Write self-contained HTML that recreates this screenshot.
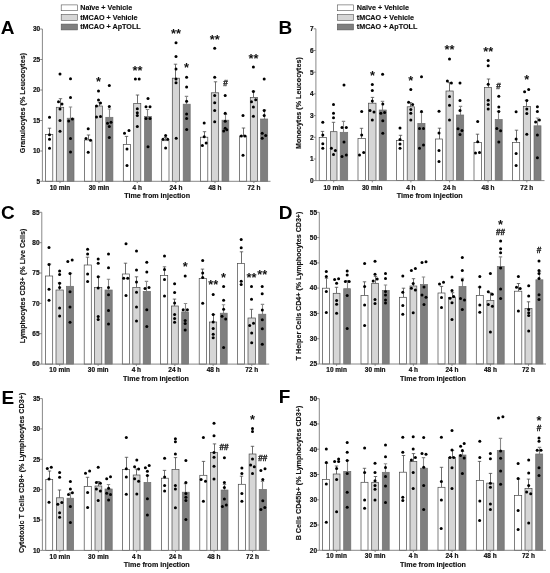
<!DOCTYPE html>
<html lang="en"><head><meta charset="utf-8"><title>Figure</title><style>
html,body{margin:0;padding:0;background:#fff;}
body{width:550px;height:573px;overflow:hidden;font-family:"Liberation Sans",sans-serif;}
svg{display:block;}
text{font-family:"Liberation Sans",sans-serif;font-weight:bold;fill:#111;}
.letter{font-size:19px;fill:#000;}
.tk{font-size:6.5px;stroke:#111;stroke-width:0.2;}
.tt{font-size:7.17px;stroke:#111;stroke-width:0.15;}
.lg{font-size:7.2px;stroke:#111;stroke-width:0.15;}
.st{font-size:12.8px;}
.ha{font-size:8.2px;stroke:#111;stroke-width:0.3;}
.bar{stroke:#484848;stroke-width:0.7;}
.lbox{stroke:#555;stroke-width:0.6;}
.b2{stroke:#6e6e6e;}
.err{stroke:#4a4a4a;stroke-width:0.8;fill:none;}
.e2{stroke:#8a8a8a;stroke-width:1.1;}
.axis{stroke:#7a7a7a;stroke-width:0.9;fill:none;}
circle{fill:#000;}
</style></head><body>
<svg width="550" height="573" viewBox="0 0 550 573">
<rect width="550" height="573" fill="#fff"/>
<g class="legend">
<rect x="61.2" y="4.9" width="16.2" height="5.8" fill="#ffffff" class="lbox"/>
<text x="80.2" y="10.2" class="lg">Naïve + Vehicle</text>
<rect x="61.2" y="14.5" width="16.2" height="5.8" fill="#d6d6d6" class="lbox"/>
<text x="80.2" y="19.8" class="lg">tMCAO + Vehicle</text>
<rect x="61.2" y="24.1" width="16.2" height="5.8" fill="#7f7f7f" class="lbox"/>
<text x="80.2" y="29.4" class="lg">tMCAO + ApTOLL</text>
</g>
<g class="legend">
<rect x="337.3" y="4.9" width="16.2" height="5.8" fill="#ffffff" class="lbox"/>
<text x="356.8" y="10.2" class="lg">Naïve + Vehicle</text>
<rect x="337.3" y="14.5" width="16.2" height="5.8" fill="#d6d6d6" class="lbox"/>
<text x="356.8" y="19.8" class="lg">tMCAO + Vehicle</text>
<rect x="337.3" y="24.1" width="16.2" height="5.8" fill="#7f7f7f" class="lbox"/>
<text x="356.8" y="29.4" class="lg">tMCAO + ApTOLL</text>
</g>
<g class="panel">
<text x="0.7" y="34.05" class="letter">A</text>
<path d="M49.5 134.5V128.2M47.8 128.2H51.2" class="err e0"/>
<rect x="45.5" y="134.5" width="7.3" height="46.8" fill="#ffffff" class="bar b0"/>
<path d="M60.5 107.3V98.7M58.8 98.7H62.2" class="err e1"/>
<rect x="56.3" y="107.3" width="7.4" height="74" fill="#d6d6d6" class="bar b1"/>
<path d="M70.5 118.2V107M68.8 107H72.2" class="err e2"/>
<rect x="67.2" y="118.2" width="6.8" height="63.1" fill="#7f7f7f" class="bar b2"/>
<path d="M88.5 140V135M86.8 135H90.2" class="err e0"/>
<rect x="84.4" y="140" width="7.6" height="41.3" fill="#ffffff" class="bar b0"/>
<path d="M99.5 106V102.7M97.8 102.7H101.2" class="err e1"/>
<rect x="95.5" y="106" width="7" height="75.3" fill="#d6d6d6" class="bar b1"/>
<path d="M109.5 117.3V109M107.8 109H111.2" class="err e2"/>
<rect x="105.8" y="117.3" width="7.1" height="64" fill="#7f7f7f" class="bar b2"/>
<path d="M126.5 144.5V136.4M124.8 136.4H128.2" class="err e0"/>
<rect x="123.3" y="144.5" width="7.2" height="36.8" fill="#ffffff" class="bar b0"/>
<path d="M137.5 103.6V95M135.8 95H139.2" class="err e1"/>
<rect x="133.7" y="103.6" width="7.1" height="77.7" fill="#d6d6d6" class="bar b1"/>
<path d="M147.5 116.4V109.5M145.8 109.5H149.2" class="err e2"/>
<rect x="144.5" y="116.4" width="6.9" height="64.9" fill="#7f7f7f" class="bar b2"/>
<path d="M165.5 140.7V137.5M163.8 137.5H167.2" class="err e0"/>
<rect x="161.7" y="140.7" width="7.3" height="40.6" fill="#ffffff" class="bar b0"/>
<path d="M175.5 78.2V64.2M173.8 64.2H177.2" class="err e1"/>
<rect x="172.3" y="78.2" width="7.2" height="103.1" fill="#d6d6d6" class="bar b1"/>
<path d="M186.5 104.2V96.4M184.8 96.4H188.2" class="err e2"/>
<rect x="183.2" y="104.2" width="7" height="77.1" fill="#7f7f7f" class="bar b2"/>
<path d="M204.5 137.2V131.7M202.8 131.7H206.2" class="err e0"/>
<rect x="200.5" y="137.2" width="7.3" height="44.1" fill="#ffffff" class="bar b0"/>
<path d="M215.5 92.8V81.8M213.8 81.8H217.2" class="err e1"/>
<rect x="211.3" y="92.8" width="7.4" height="88.5" fill="#d6d6d6" class="bar b1"/>
<path d="M225.5 120.2V114.4M223.8 114.4H227.2" class="err e2"/>
<rect x="222" y="120.2" width="6.8" height="61.1" fill="#7f7f7f" class="bar b2"/>
<path d="M243.5 136V128M241.8 128H245.2" class="err e0"/>
<rect x="239.5" y="136" width="7.2" height="45.3" fill="#ffffff" class="bar b0"/>
<path d="M253.5 97.4V91.2M251.8 91.2H255.2" class="err e1"/>
<rect x="250.3" y="97.4" width="7.2" height="83.9" fill="#d6d6d6" class="bar b1"/>
<path d="M264.5 119V110M262.8 110H266.2" class="err e2"/>
<rect x="260.6" y="119" width="7.1" height="62.3" fill="#7f7f7f" class="bar b2"/>
<path d="M42.4 29V181.3H270.5M40.2 29H42.4M40.2 59.5H42.4M40.2 90H42.4M40.2 120.5H42.4M40.2 151H42.4M40.2 181.3H42.4M60 181.3V183.1M99 181.3V183.1M137.25 181.3V183.1M175.9 181.3V183.1M215 181.3V183.1M253.9 181.3V183.1" class="axis"/>
<circle cx="49.5" cy="117.3" r="1.5"/>
<circle cx="49.5" cy="134.7" r="1.5"/>
<circle cx="49.5" cy="139.3" r="1.5"/>
<circle cx="49.5" cy="148.3" r="1.5"/>
<circle cx="60" cy="74" r="1.5"/>
<circle cx="58.5" cy="101.8" r="1.5"/>
<circle cx="62" cy="104" r="1.5"/>
<circle cx="60" cy="109" r="1.5"/>
<circle cx="60" cy="120.4" r="1.5"/>
<circle cx="60" cy="131.3" r="1.5"/>
<circle cx="70.5" cy="78.7" r="1.5"/>
<circle cx="70.5" cy="97.5" r="1.5"/>
<circle cx="68.7" cy="121" r="1.5"/>
<circle cx="72.4" cy="119" r="1.5"/>
<circle cx="70.5" cy="138.5" r="1.5"/>
<circle cx="70.5" cy="152.1" r="1.5"/>
<circle cx="88.2" cy="128.7" r="1.5"/>
<circle cx="86" cy="138.4" r="1.5"/>
<circle cx="90.5" cy="140.2" r="1.5"/>
<circle cx="88.2" cy="152.2" r="1.5"/>
<circle cx="98.5" cy="91" r="1.5"/>
<circle cx="98.5" cy="100" r="1.5"/>
<circle cx="100.5" cy="103" r="1.5"/>
<circle cx="96.5" cy="106" r="1.5"/>
<circle cx="96.5" cy="117" r="1.5"/>
<circle cx="100.5" cy="116.5" r="1.5"/>
<circle cx="109.3" cy="85.5" r="1.5"/>
<circle cx="109.3" cy="106.4" r="1.5"/>
<circle cx="107.5" cy="123.3" r="1.5"/>
<circle cx="111" cy="122.2" r="1.5"/>
<circle cx="109.3" cy="126.4" r="1.5"/>
<circle cx="109.3" cy="137.6" r="1.5"/>
<circle cx="124.5" cy="133.3" r="1.5"/>
<circle cx="129" cy="130.4" r="1.5"/>
<circle cx="127" cy="149" r="1.5"/>
<circle cx="127" cy="165.6" r="1.5"/>
<circle cx="135.4" cy="79" r="1.5"/>
<circle cx="139.2" cy="79" r="1.5"/>
<circle cx="137.3" cy="108.7" r="1.5"/>
<circle cx="137.3" cy="112.7" r="1.5"/>
<circle cx="137.3" cy="115.5" r="1.5"/>
<circle cx="137.3" cy="126.4" r="1.5"/>
<circle cx="148" cy="98.4" r="1.5"/>
<circle cx="146" cy="106.7" r="1.5"/>
<circle cx="150" cy="106.7" r="1.5"/>
<circle cx="146" cy="118.5" r="1.5"/>
<circle cx="150" cy="118.5" r="1.5"/>
<circle cx="148" cy="146.7" r="1.5"/>
<circle cx="165.6" cy="135.6" r="1.5"/>
<circle cx="163" cy="139.3" r="1.5"/>
<circle cx="167.7" cy="139.3" r="1.5"/>
<circle cx="165.6" cy="148" r="1.5"/>
<circle cx="176" cy="42.7" r="1.5"/>
<circle cx="176" cy="56.4" r="1.5"/>
<circle cx="176" cy="69" r="1.5"/>
<circle cx="176" cy="79" r="1.5"/>
<circle cx="176" cy="82.7" r="1.5"/>
<circle cx="176.2" cy="138.3" r="1.5"/>
<circle cx="186.6" cy="77.3" r="1.5"/>
<circle cx="186.6" cy="87" r="1.5"/>
<circle cx="186.6" cy="101.3" r="1.5"/>
<circle cx="186.6" cy="114" r="1.5"/>
<circle cx="186.6" cy="118.5" r="1.5"/>
<circle cx="186.7" cy="129.6" r="1.5"/>
<circle cx="204.2" cy="122.9" r="1.5"/>
<circle cx="204.2" cy="136.8" r="1.5"/>
<circle cx="206.2" cy="143" r="1.5"/>
<circle cx="202.4" cy="145.6" r="1.5"/>
<circle cx="214.7" cy="48.3" r="1.5"/>
<circle cx="214.7" cy="77.2" r="1.5"/>
<circle cx="214.7" cy="95.4" r="1.5"/>
<circle cx="214.7" cy="102.8" r="1.5"/>
<circle cx="214.7" cy="110.5" r="1.5"/>
<circle cx="214.7" cy="121.8" r="1.5"/>
<circle cx="225.2" cy="95.4" r="1.5"/>
<circle cx="225.2" cy="113.3" r="1.5"/>
<circle cx="225.2" cy="121.3" r="1.5"/>
<circle cx="223.7" cy="131" r="1.5"/>
<circle cx="226.8" cy="129.8" r="1.5"/>
<circle cx="225.2" cy="128.3" r="1.5"/>
<circle cx="243" cy="115.6" r="1.5"/>
<circle cx="241.3" cy="136" r="1.5"/>
<circle cx="244.9" cy="136" r="1.5"/>
<circle cx="243" cy="155.3" r="1.5"/>
<circle cx="253.4" cy="67" r="1.5"/>
<circle cx="253.4" cy="91.5" r="1.5"/>
<circle cx="255.7" cy="99.7" r="1.5"/>
<circle cx="251.5" cy="101.7" r="1.5"/>
<circle cx="253.4" cy="107" r="1.5"/>
<circle cx="253.4" cy="116.2" r="1.5"/>
<circle cx="264.2" cy="79" r="1.5"/>
<circle cx="264.2" cy="110.5" r="1.5"/>
<circle cx="264.2" cy="115.4" r="1.5"/>
<circle cx="262.2" cy="133.2" r="1.5"/>
<circle cx="265.7" cy="135.5" r="1.5"/>
<circle cx="262.2" cy="138.3" r="1.5"/>
<text x="40.2" y="31.3" class="tk" text-anchor="end">30</text>
<text x="40.2" y="61.8" class="tk" text-anchor="end">25</text>
<text x="40.2" y="92.3" class="tk" text-anchor="end">20</text>
<text x="40.2" y="122.8" class="tk" text-anchor="end">15</text>
<text x="40.2" y="153.3" class="tk" text-anchor="end">10</text>
<text x="40.2" y="183.6" class="tk" text-anchor="end">5</text>
<text x="60" y="190" class="tk" text-anchor="middle">10 min</text>
<text x="99" y="190" class="tk" text-anchor="middle">30 min</text>
<text x="137.25" y="190" class="tk" text-anchor="middle">4 h</text>
<text x="175.9" y="190" class="tk" text-anchor="middle">24 h</text>
<text x="215" y="190" class="tk" text-anchor="middle">48 h</text>
<text x="253.9" y="190" class="tk" text-anchor="middle">72 h</text>
<text x="157.1" y="198.3" class="tt" text-anchor="middle">Time from injection</text>
<text transform="translate(24.5 103.05) rotate(-90)" class="tt" style="font-size:7.16px" text-anchor="middle">Granulocytes (% Leucocytes)</text>
<text x="98.5" y="86.4" class="st" text-anchor="middle">*</text>
<text x="137.4" y="74.9" class="st" text-anchor="middle">**</text>
<text x="176" y="38.4" class="st" text-anchor="middle">**</text>
<text x="186.6" y="72.2" class="st" text-anchor="middle">*</text>
<text x="214.7" y="43.9" class="st" text-anchor="middle">**</text>
<text x="225.5" y="86.23" class="ha" text-anchor="middle">#</text>
<text x="253.4" y="62.7" class="st" text-anchor="middle">**</text>
</g>
<g class="panel">
<text x="278.5" y="33.7" class="letter">B</text>
<path d="M322.5 137.4V131.4M320.8 131.4H324.2" class="err e0"/>
<rect x="319.2" y="137.4" width="7.3" height="43.2" fill="#ffffff" class="bar b0"/>
<path d="M333.5 131.7V122.3M331.8 122.3H335.2" class="err e1"/>
<rect x="330.4" y="131.7" width="6.6" height="48.9" fill="#d6d6d6" class="bar b1"/>
<path d="M343.5 132.3V121.4M341.8 121.4H345.2" class="err e2"/>
<rect x="340.2" y="132.3" width="7.5" height="48.3" fill="#7f7f7f" class="bar b2"/>
<path d="M361.5 138.6V128.3M359.8 128.3H363.2" class="err e0"/>
<rect x="358" y="138.6" width="7.4" height="42" fill="#ffffff" class="bar b0"/>
<path d="M372.5 103.2V97.4M370.8 97.4H374.2" class="err e1"/>
<rect x="368.6" y="103.2" width="7.4" height="77.4" fill="#d6d6d6" class="bar b1"/>
<path d="M382.5 110V101.4M380.8 101.4H384.2" class="err e2"/>
<rect x="379.2" y="110" width="7.1" height="70.6" fill="#7f7f7f" class="bar b2"/>
<path d="M400.5 140.4V135.3M398.8 135.3H402.2" class="err e0"/>
<rect x="396.5" y="140.4" width="7.2" height="40.2" fill="#ffffff" class="bar b0"/>
<path d="M410.5 106.8V102.7M408.8 102.7H412.2" class="err e1"/>
<rect x="407.2" y="106.8" width="7.4" height="73.8" fill="#d6d6d6" class="bar b1"/>
<path d="M421.5 123.4V112.2M419.8 112.2H423.2" class="err e2"/>
<rect x="417.8" y="123.4" width="7.2" height="57.2" fill="#7f7f7f" class="bar b2"/>
<path d="M439.5 139V128.2M437.8 128.2H441.2" class="err e0"/>
<rect x="435.4" y="139" width="7.2" height="41.6" fill="#ffffff" class="bar b0"/>
<path d="M449.5 91V82.7M447.8 82.7H451.2" class="err e1"/>
<rect x="446" y="91" width="7.2" height="89.6" fill="#d6d6d6" class="bar b1"/>
<path d="M460.5 115V106.4M458.8 106.4H462.2" class="err e2"/>
<rect x="456.4" y="115" width="7.3" height="65.6" fill="#7f7f7f" class="bar b2"/>
<path d="M477.5 142.4V134.2M475.8 134.2H479.2" class="err e0"/>
<rect x="474" y="142.4" width="7.4" height="38.2" fill="#ffffff" class="bar b0"/>
<path d="M488.5 87.4V79M486.8 79H490.2" class="err e1"/>
<rect x="484.5" y="87.4" width="7.1" height="93.2" fill="#d6d6d6" class="bar b1"/>
<path d="M498.5 119.5V111.4M496.8 111.4H500.2" class="err e2"/>
<rect x="495.2" y="119.5" width="7" height="61.1" fill="#7f7f7f" class="bar b2"/>
<path d="M516.5 142.5V130.2M514.8 130.2H518.2" class="err e0"/>
<rect x="512.4" y="142.5" width="7.3" height="38.1" fill="#ffffff" class="bar b0"/>
<path d="M526.5 106.4V100.3M524.8 100.3H528.2" class="err e1"/>
<rect x="523.3" y="106.4" width="7.1" height="74.2" fill="#d6d6d6" class="bar b1"/>
<path d="M537.5 125.8V118M535.8 118H539.2" class="err e2"/>
<rect x="534" y="125.8" width="7" height="54.8" fill="#7f7f7f" class="bar b2"/>
<path d="M315.9 28.8V180.6H544.5M313.7 28.8H315.9M313.7 50.5H315.9M313.7 72.2H315.9M313.7 93.9H315.9M313.7 115.6H315.9M313.7 137.3H315.9M313.7 159H315.9M313.7 180.6H315.9M333.7 180.6V182.4M372.3 180.6V182.4M410.9 180.6V182.4M449.6 180.6V182.4M488.05 180.6V182.4M526.85 180.6V182.4" class="axis"/>
<circle cx="322.8" cy="122.3" r="1.5"/>
<circle cx="322.8" cy="135" r="1.5"/>
<circle cx="322.8" cy="143.7" r="1.5"/>
<circle cx="322.8" cy="148.3" r="1.5"/>
<circle cx="333.5" cy="104.6" r="1.5"/>
<circle cx="333.5" cy="113.2" r="1.5"/>
<circle cx="333.5" cy="117.7" r="1.5"/>
<circle cx="331.4" cy="148.3" r="1.5"/>
<circle cx="335.4" cy="150.5" r="1.5"/>
<circle cx="333.5" cy="154.6" r="1.5"/>
<circle cx="344" cy="85" r="1.5"/>
<circle cx="342" cy="127.4" r="1.5"/>
<circle cx="346.3" cy="127.4" r="1.5"/>
<circle cx="344" cy="142" r="1.5"/>
<circle cx="342" cy="156.5" r="1.5"/>
<circle cx="346.3" cy="155" r="1.5"/>
<circle cx="361.7" cy="111.4" r="1.5"/>
<circle cx="361.7" cy="135" r="1.5"/>
<circle cx="359.5" cy="155" r="1.5"/>
<circle cx="363.7" cy="152.6" r="1.5"/>
<circle cx="372.3" cy="84.5" r="1.5"/>
<circle cx="372.3" cy="90.5" r="1.5"/>
<circle cx="372.3" cy="101" r="1.5"/>
<circle cx="370" cy="110.5" r="1.5"/>
<circle cx="374" cy="112" r="1.5"/>
<circle cx="372.3" cy="120" r="1.5"/>
<circle cx="382.6" cy="74.3" r="1.5"/>
<circle cx="382.8" cy="104" r="1.5"/>
<circle cx="380.8" cy="113.2" r="1.5"/>
<circle cx="384.6" cy="112.6" r="1.5"/>
<circle cx="382.8" cy="120.8" r="1.5"/>
<circle cx="382.8" cy="133.2" r="1.5"/>
<circle cx="400" cy="128.1" r="1.5"/>
<circle cx="400" cy="139.4" r="1.5"/>
<circle cx="400" cy="144" r="1.5"/>
<circle cx="400" cy="148.2" r="1.5"/>
<circle cx="410.8" cy="89.5" r="1.5"/>
<circle cx="408.6" cy="102.2" r="1.5"/>
<circle cx="412.6" cy="104.5" r="1.5"/>
<circle cx="410.8" cy="109.5" r="1.5"/>
<circle cx="410.8" cy="113.3" r="1.5"/>
<circle cx="410.8" cy="120" r="1.5"/>
<circle cx="421.5" cy="76.7" r="1.5"/>
<circle cx="421.5" cy="111.4" r="1.5"/>
<circle cx="419.5" cy="128.5" r="1.5"/>
<circle cx="423.5" cy="128.5" r="1.5"/>
<circle cx="423.5" cy="145" r="1.5"/>
<circle cx="419.5" cy="148.2" r="1.5"/>
<circle cx="439" cy="111.3" r="1.5"/>
<circle cx="439" cy="133" r="1.5"/>
<circle cx="439" cy="150.4" r="1.5"/>
<circle cx="439" cy="161.5" r="1.5"/>
<circle cx="449.5" cy="59" r="1.5"/>
<circle cx="447.4" cy="81" r="1.5"/>
<circle cx="451.4" cy="83" r="1.5"/>
<circle cx="449.5" cy="96.4" r="1.5"/>
<circle cx="449.5" cy="105.2" r="1.5"/>
<circle cx="449.5" cy="120" r="1.5"/>
<circle cx="460" cy="83" r="1.5"/>
<circle cx="460" cy="100.5" r="1.5"/>
<circle cx="460" cy="110.5" r="1.5"/>
<circle cx="458" cy="128.7" r="1.5"/>
<circle cx="462" cy="130.4" r="1.5"/>
<circle cx="460" cy="134.5" r="1.5"/>
<circle cx="477.7" cy="121.5" r="1.5"/>
<circle cx="477.7" cy="141.8" r="1.5"/>
<circle cx="475.5" cy="153" r="1.5"/>
<circle cx="479.5" cy="152.4" r="1.5"/>
<circle cx="488.2" cy="60.4" r="1.5"/>
<circle cx="488.2" cy="65.8" r="1.5"/>
<circle cx="488.2" cy="84.3" r="1.5"/>
<circle cx="488.2" cy="100.3" r="1.5"/>
<circle cx="488.2" cy="104.6" r="1.5"/>
<circle cx="488.2" cy="109" r="1.5"/>
<circle cx="498.8" cy="96.3" r="1.5"/>
<circle cx="498.8" cy="107" r="1.5"/>
<circle cx="498.8" cy="111.4" r="1.5"/>
<circle cx="496.8" cy="128.5" r="1.5"/>
<circle cx="500.6" cy="130.7" r="1.5"/>
<circle cx="498.8" cy="142" r="1.5"/>
<circle cx="516.1" cy="111.7" r="1.5"/>
<circle cx="516.1" cy="138.9" r="1.5"/>
<circle cx="516.1" cy="153.4" r="1.5"/>
<circle cx="516.1" cy="165.4" r="1.5"/>
<circle cx="524.6" cy="91.7" r="1.5"/>
<circle cx="528.7" cy="89.6" r="1.5"/>
<circle cx="526.8" cy="100.4" r="1.5"/>
<circle cx="526.8" cy="109" r="1.5"/>
<circle cx="526.8" cy="113.5" r="1.5"/>
<circle cx="526.8" cy="134.3" r="1.5"/>
<circle cx="537.4" cy="106.8" r="1.5"/>
<circle cx="537.4" cy="111.4" r="1.5"/>
<circle cx="539.4" cy="120" r="1.5"/>
<circle cx="535.6" cy="122" r="1.5"/>
<circle cx="537.4" cy="135" r="1.5"/>
<circle cx="537.4" cy="157.7" r="1.5"/>
<text x="313.7" y="31.1" class="tk" text-anchor="end">7</text>
<text x="313.7" y="52.8" class="tk" text-anchor="end">6</text>
<text x="313.7" y="74.5" class="tk" text-anchor="end">5</text>
<text x="313.7" y="96.2" class="tk" text-anchor="end">4</text>
<text x="313.7" y="117.9" class="tk" text-anchor="end">3</text>
<text x="313.7" y="139.6" class="tk" text-anchor="end">2</text>
<text x="313.7" y="161.3" class="tk" text-anchor="end">1</text>
<text x="313.7" y="182.9" class="tk" text-anchor="end">0</text>
<text x="333.7" y="189.7" class="tk" text-anchor="middle">10 min</text>
<text x="372.3" y="189.7" class="tk" text-anchor="middle">30 min</text>
<text x="410.9" y="189.7" class="tk" text-anchor="middle">4 h</text>
<text x="449.6" y="189.7" class="tk" text-anchor="middle">24 h</text>
<text x="488.05" y="189.7" class="tk" text-anchor="middle">48 h</text>
<text x="526.85" y="189.7" class="tk" text-anchor="middle">72 h</text>
<text x="429.8" y="198.3" class="tt" text-anchor="middle">Time from injection</text>
<text transform="translate(301.1 103.1) rotate(-90)" class="tt" style="font-size:7.16px" text-anchor="middle">Monocytes (% Leucocytes)</text>
<text x="372.4" y="79.7" class="st" text-anchor="middle">*</text>
<text x="410.8" y="84.9" class="st" text-anchor="middle">*</text>
<text x="449.5" y="54.4" class="st" text-anchor="middle">**</text>
<text x="488.2" y="56.4" class="st" text-anchor="middle">**</text>
<text x="498.5" y="89.43" class="ha" text-anchor="middle">#</text>
<text x="526.8" y="84.4" class="st" text-anchor="middle">*</text>
</g>
<g class="panel">
<text x="1.1" y="219" class="letter">C</text>
<path d="M49.5 276V264M47.8 264H51.2" class="err e0"/>
<rect x="45.5" y="276" width="7.2" height="88.1" fill="#ffffff" class="bar b0"/>
<path d="M59.5 290V282.8M57.8 282.8H61.2" class="err e1"/>
<rect x="56" y="290" width="7.3" height="74.1" fill="#d6d6d6" class="bar b1"/>
<path d="M70.5 286.3V273.2M68.8 273.2H72.2" class="err e2"/>
<rect x="66.4" y="286.3" width="7.2" height="77.8" fill="#7f7f7f" class="bar b2"/>
<path d="M87.5 265V257.2M85.8 257.2H89.2" class="err e0"/>
<rect x="84.2" y="265" width="7.1" height="99.1" fill="#ffffff" class="bar b0"/>
<path d="M98.5 287.4V276.8M96.8 276.8H100.2" class="err e1"/>
<rect x="94.5" y="287.4" width="7.3" height="76.7" fill="#d6d6d6" class="bar b1"/>
<path d="M108.5 290V279.2M106.8 279.2H110.2" class="err e2"/>
<rect x="105" y="290" width="7.2" height="74.1" fill="#7f7f7f" class="bar b2"/>
<path d="M125.5 274V263.2M123.8 263.2H127.2" class="err e0"/>
<rect x="122.3" y="274" width="7.2" height="90.1" fill="#ffffff" class="bar b0"/>
<path d="M136.5 287.4V276.8M134.8 276.8H138.2" class="err e1"/>
<rect x="132.8" y="287.4" width="7.2" height="76.7" fill="#d6d6d6" class="bar b1"/>
<path d="M146.5 291.4V281.4M144.8 281.4H148.2" class="err e2"/>
<rect x="143.2" y="291.4" width="7.3" height="72.7" fill="#7f7f7f" class="bar b2"/>
<path d="M164.5 275.5V266.8M162.8 266.8H166.2" class="err e0"/>
<rect x="160.5" y="275.5" width="7.2" height="88.6" fill="#ffffff" class="bar b0"/>
<path d="M174.5 306V299.1M172.8 299.1H176.2" class="err e1"/>
<rect x="171.4" y="306" width="6.9" height="58.1" fill="#d6d6d6" class="bar b1"/>
<path d="M185.5 311.9V303.5M183.8 303.5H187.2" class="err e2"/>
<rect x="181.7" y="311.9" width="6.9" height="52.2" fill="#7f7f7f" class="bar b2"/>
<path d="M202.5 278.5V269.1M200.8 269.1H204.2" class="err e0"/>
<rect x="199.2" y="278.5" width="7.2" height="85.6" fill="#ffffff" class="bar b0"/>
<path d="M213.5 322V314.5M211.8 314.5H215.2" class="err e1"/>
<rect x="209.6" y="322" width="7.1" height="42.1" fill="#d6d6d6" class="bar b1"/>
<path d="M223.5 313.2V304.7M221.8 304.7H225.2" class="err e2"/>
<rect x="220.3" y="313.2" width="6.9" height="50.9" fill="#7f7f7f" class="bar b2"/>
<path d="M241.5 263.6V251.8M239.8 251.8H243.2" class="err e0"/>
<rect x="237.5" y="263.6" width="7" height="100.5" fill="#ffffff" class="bar b0"/>
<path d="M251.5 318V309.3M249.8 309.3H253.2" class="err e1"/>
<rect x="248" y="318" width="7.5" height="46.1" fill="#d6d6d6" class="bar b1"/>
<path d="M262.5 314.2V304.4M260.8 304.4H264.2" class="err e2"/>
<rect x="258.7" y="314.2" width="7.1" height="49.9" fill="#7f7f7f" class="bar b2"/>
<path d="M41.8 212.3V364.1H269.2M39.6 212.3H41.8M39.6 242.7H41.8M39.6 273H41.8M39.6 303.4H41.8M39.6 333.7H41.8M39.6 364.1H41.8M59.65 364.1V365.9M98.15 364.1V365.9M136.4 364.1V365.9M174.85 364.1V365.9M213.15 364.1V365.9M251.75 364.1V365.9" class="axis"/>
<circle cx="49" cy="247.4" r="1.5"/>
<circle cx="49" cy="264.6" r="1.5"/>
<circle cx="49" cy="289.2" r="1.5"/>
<circle cx="49" cy="300.2" r="1.5"/>
<circle cx="59.6" cy="271" r="1.5"/>
<circle cx="59.6" cy="274.5" r="1.5"/>
<circle cx="59.6" cy="283.2" r="1.5"/>
<circle cx="59.6" cy="287.4" r="1.5"/>
<circle cx="59.6" cy="308.1" r="1.5"/>
<circle cx="59.6" cy="316" r="1.5"/>
<circle cx="67.8" cy="261.4" r="1.5"/>
<circle cx="72.2" cy="260" r="1.5"/>
<circle cx="70" cy="273.5" r="1.5"/>
<circle cx="70" cy="291.7" r="1.5"/>
<circle cx="70" cy="306.9" r="1.5"/>
<circle cx="70" cy="322.2" r="1.5"/>
<circle cx="87.6" cy="249.2" r="1.5"/>
<circle cx="87.6" cy="254" r="1.5"/>
<circle cx="87.6" cy="274" r="1.5"/>
<circle cx="87.6" cy="281.4" r="1.5"/>
<circle cx="98.2" cy="259" r="1.5"/>
<circle cx="98.2" cy="263.2" r="1.5"/>
<circle cx="98.2" cy="276.8" r="1.5"/>
<circle cx="98.2" cy="288" r="1.5"/>
<circle cx="98.2" cy="316.4" r="1.5"/>
<circle cx="98.2" cy="319.6" r="1.5"/>
<circle cx="108.5" cy="254" r="1.5"/>
<circle cx="108.5" cy="267.7" r="1.5"/>
<circle cx="108.5" cy="287.4" r="1.5"/>
<circle cx="108.5" cy="294.8" r="1.5"/>
<circle cx="108.5" cy="310.5" r="1.5"/>
<circle cx="108.5" cy="324.1" r="1.5"/>
<circle cx="126" cy="243.7" r="1.5"/>
<circle cx="123.7" cy="278.3" r="1.5"/>
<circle cx="127.7" cy="278.3" r="1.5"/>
<circle cx="126" cy="295.4" r="1.5"/>
<circle cx="136.5" cy="251" r="1.5"/>
<circle cx="136.5" cy="270" r="1.5"/>
<circle cx="136.5" cy="282" r="1.5"/>
<circle cx="136.5" cy="292.3" r="1.5"/>
<circle cx="136.5" cy="307.1" r="1.5"/>
<circle cx="136.5" cy="320.9" r="1.5"/>
<circle cx="146.8" cy="262.3" r="1.5"/>
<circle cx="146.8" cy="272" r="1.5"/>
<circle cx="145" cy="288.6" r="1.5"/>
<circle cx="149" cy="287.4" r="1.5"/>
<circle cx="146.8" cy="309.8" r="1.5"/>
<circle cx="146.8" cy="326.4" r="1.5"/>
<circle cx="164.5" cy="256" r="1.5"/>
<circle cx="164.5" cy="269.5" r="1.5"/>
<circle cx="164.5" cy="279.5" r="1.5"/>
<circle cx="164.5" cy="296" r="1.5"/>
<circle cx="174.6" cy="283.7" r="1.5"/>
<circle cx="174.6" cy="292.5" r="1.5"/>
<circle cx="174.6" cy="303" r="1.5"/>
<circle cx="174.6" cy="314.5" r="1.5"/>
<circle cx="174.6" cy="318.5" r="1.5"/>
<circle cx="174.6" cy="322.2" r="1.5"/>
<circle cx="185.2" cy="276" r="1.5"/>
<circle cx="183.2" cy="309.7" r="1.5"/>
<circle cx="187.4" cy="309.7" r="1.5"/>
<circle cx="185.2" cy="320.5" r="1.5"/>
<circle cx="185.2" cy="323.5" r="1.5"/>
<circle cx="185.2" cy="330" r="1.5"/>
<circle cx="202.7" cy="260.4" r="1.5"/>
<circle cx="202.7" cy="273.1" r="1.5"/>
<circle cx="202.7" cy="277.4" r="1.5"/>
<circle cx="202.7" cy="303.3" r="1.5"/>
<circle cx="213.2" cy="294.4" r="1.5"/>
<circle cx="213.2" cy="314.4" r="1.5"/>
<circle cx="213.2" cy="322" r="1.5"/>
<circle cx="213.2" cy="328.4" r="1.5"/>
<circle cx="213.2" cy="334.2" r="1.5"/>
<circle cx="213.2" cy="337.8" r="1.5"/>
<circle cx="223.6" cy="286.5" r="1.5"/>
<circle cx="223.6" cy="300.3" r="1.5"/>
<circle cx="223.6" cy="309.3" r="1.5"/>
<circle cx="222" cy="316.2" r="1.5"/>
<circle cx="225.7" cy="319" r="1.5"/>
<circle cx="223.6" cy="347.6" r="1.5"/>
<circle cx="241.2" cy="239.5" r="1.5"/>
<circle cx="241.2" cy="247.7" r="1.5"/>
<circle cx="241.2" cy="281.3" r="1.5"/>
<circle cx="241.2" cy="284.6" r="1.5"/>
<circle cx="251.5" cy="286.5" r="1.5"/>
<circle cx="251.5" cy="299.2" r="1.5"/>
<circle cx="249.7" cy="325.5" r="1.5"/>
<circle cx="253.5" cy="323.2" r="1.5"/>
<circle cx="251.7" cy="333" r="1.5"/>
<circle cx="251.7" cy="342.7" r="1.5"/>
<circle cx="262.2" cy="286.5" r="1.5"/>
<circle cx="262.2" cy="293.8" r="1.5"/>
<circle cx="262.3" cy="310" r="1.5"/>
<circle cx="262.3" cy="319.8" r="1.5"/>
<circle cx="262.3" cy="328.8" r="1.5"/>
<circle cx="262.3" cy="344.3" r="1.5"/>
<text x="39.6" y="214.6" class="tk" text-anchor="end">85</text>
<text x="39.6" y="245" class="tk" text-anchor="end">80</text>
<text x="39.6" y="275.3" class="tk" text-anchor="end">75</text>
<text x="39.6" y="305.7" class="tk" text-anchor="end">70</text>
<text x="39.6" y="336" class="tk" text-anchor="end">65</text>
<text x="39.6" y="366.4" class="tk" text-anchor="end">60</text>
<text x="59.65" y="372.3" class="tk" text-anchor="middle">10 min</text>
<text x="98.15" y="372.3" class="tk" text-anchor="middle">30 min</text>
<text x="136.4" y="372.3" class="tk" text-anchor="middle">4 h</text>
<text x="174.85" y="372.3" class="tk" text-anchor="middle">24 h</text>
<text x="213.15" y="372.3" class="tk" text-anchor="middle">48 h</text>
<text x="251.75" y="372.3" class="tk" text-anchor="middle">72 h</text>
<text x="156" y="380.5" class="tt" text-anchor="middle">Time from injection</text>
<text transform="translate(24.5 285.9) rotate(-90)" class="tt" style="font-size:7.15px" text-anchor="middle">Lymphocytes CD3+ (% Live Cells)</text>
<text x="185.2" y="271.4" class="st" text-anchor="middle">*</text>
<text x="213.2" y="289.4" class="st" text-anchor="middle">**</text>
<text x="223.6" y="281.6" class="st" text-anchor="middle">*</text>
<text x="251.4" y="282" class="st" text-anchor="middle">**</text>
<text x="262.3" y="278.7" class="st" text-anchor="middle">**</text>
</g>
<g class="panel">
<text x="278.8" y="218.8" class="letter">D</text>
<path d="M326.5 288.2V278.2M324.8 278.2H328.2" class="err e0"/>
<rect x="322.6" y="288.2" width="6.9" height="75.8" fill="#ffffff" class="bar b0"/>
<path d="M336.5 293.3V287.3M334.8 287.3H338.2" class="err e1"/>
<rect x="333.2" y="293.3" width="6.8" height="70.7" fill="#d6d6d6" class="bar b1"/>
<path d="M347.5 288.7V280.5M345.8 280.5H349.2" class="err e2"/>
<rect x="343.7" y="288.7" width="6.8" height="75.3" fill="#7f7f7f" class="bar b2"/>
<path d="M364.5 295.5V281.8M362.8 281.8H366.2" class="err e0"/>
<rect x="361" y="295.5" width="7" height="68.5" fill="#ffffff" class="bar b0"/>
<path d="M375.5 283.3V276.4M373.8 276.4H377.2" class="err e1"/>
<rect x="371.7" y="283.3" width="6.9" height="80.7" fill="#d6d6d6" class="bar b1"/>
<path d="M385.5 290.4V285M383.8 285H387.2" class="err e2"/>
<rect x="382.3" y="290.4" width="6.9" height="73.6" fill="#7f7f7f" class="bar b2"/>
<path d="M403.5 297.3V288.2M401.8 288.2H405.2" class="err e0"/>
<rect x="399.5" y="297.3" width="7" height="66.7" fill="#ffffff" class="bar b0"/>
<path d="M413.5 286V278.7M411.8 278.7H415.2" class="err e1"/>
<rect x="410" y="286" width="6.8" height="78" fill="#d6d6d6" class="bar b1"/>
<path d="M423.5 284.5V277M421.8 277H425.2" class="err e2"/>
<rect x="420.5" y="284.5" width="6.9" height="79.5" fill="#7f7f7f" class="bar b2"/>
<path d="M441.5 293V286.4M439.8 286.4H443.2" class="err e0"/>
<rect x="438" y="293" width="7" height="71" fill="#ffffff" class="bar b0"/>
<path d="M452.5 297.6V292.7M450.8 292.7H454.2" class="err e1"/>
<rect x="448.6" y="297.6" width="6.8" height="66.4" fill="#d6d6d6" class="bar b1"/>
<path d="M462.5 286.4V278.2M460.8 278.2H464.2" class="err e2"/>
<rect x="459" y="286.4" width="7" height="77.6" fill="#7f7f7f" class="bar b2"/>
<path d="M479.5 295.4V287.1M477.8 287.1H481.2" class="err e0"/>
<rect x="476.3" y="295.4" width="7" height="68.6" fill="#ffffff" class="bar b0"/>
<path d="M490.5 300.5V292.9M488.8 292.9H492.2" class="err e1"/>
<rect x="486.9" y="300.5" width="7" height="63.5" fill="#d6d6d6" class="bar b1"/>
<path d="M500.5 266.4V256.9M498.8 256.9H502.2" class="err e2"/>
<rect x="497.3" y="266.4" width="6.9" height="97.6" fill="#7f7f7f" class="bar b2"/>
<path d="M518.5 291.2V283.5M516.8 283.5H520.2" class="err e0"/>
<rect x="514.6" y="291.2" width="7.2" height="72.8" fill="#ffffff" class="bar b0"/>
<path d="M528.5 308.6V301.8M526.8 301.8H530.2" class="err e1"/>
<rect x="525" y="308.6" width="7" height="55.4" fill="#d6d6d6" class="bar b1"/>
<path d="M539.5 279.8V271.8M537.8 271.8H541.2" class="err e2"/>
<rect x="535.9" y="279.8" width="7" height="84.2" fill="#7f7f7f" class="bar b2"/>
<path d="M319.3 212.3V364H546M317.1 212.3H319.3M317.1 237.6H319.3M317.1 262.9H319.3M317.1 288.1H319.3M317.1 313.4H319.3M317.1 338.7H319.3M317.1 364H319.3M336.6 364V365.8M375.15 364V365.8M413.4 364V365.8M452 364V365.8M490.4 364V365.8M528.5 364V365.8" class="axis"/>
<circle cx="326.3" cy="271.5" r="1.5"/>
<circle cx="326.3" cy="276.4" r="1.5"/>
<circle cx="326.3" cy="291.5" r="1.5"/>
<circle cx="326.3" cy="312.4" r="1.5"/>
<circle cx="334.6" cy="279.6" r="1.5"/>
<circle cx="338.6" cy="278.7" r="1.5"/>
<circle cx="336.6" cy="283.3" r="1.5"/>
<circle cx="336.6" cy="300.5" r="1.5"/>
<circle cx="336.6" cy="304.2" r="1.5"/>
<circle cx="336.6" cy="313.3" r="1.5"/>
<circle cx="347.2" cy="271" r="1.5"/>
<circle cx="347.2" cy="275" r="1.5"/>
<circle cx="345.4" cy="281.5" r="1.5"/>
<circle cx="349.2" cy="281.5" r="1.5"/>
<circle cx="347.2" cy="295.5" r="1.5"/>
<circle cx="347.2" cy="328.5" r="1.5"/>
<circle cx="364.6" cy="263.6" r="1.5"/>
<circle cx="364.6" cy="286.4" r="1.5"/>
<circle cx="364.6" cy="305" r="1.5"/>
<circle cx="364.6" cy="325.5" r="1.5"/>
<circle cx="375" cy="261.3" r="1.5"/>
<circle cx="375" cy="274.2" r="1.5"/>
<circle cx="373.2" cy="281" r="1.5"/>
<circle cx="377.2" cy="279" r="1.5"/>
<circle cx="375" cy="299.5" r="1.5"/>
<circle cx="375" cy="303.6" r="1.5"/>
<circle cx="385.5" cy="273.6" r="1.5"/>
<circle cx="385.5" cy="278.5" r="1.5"/>
<circle cx="385.5" cy="291.5" r="1.5"/>
<circle cx="385.5" cy="295" r="1.5"/>
<circle cx="385.5" cy="300" r="1.5"/>
<circle cx="385.5" cy="303" r="1.5"/>
<circle cx="402.8" cy="276" r="1.5"/>
<circle cx="402.8" cy="292.2" r="1.5"/>
<circle cx="402.8" cy="305.5" r="1.5"/>
<circle cx="402.8" cy="314.2" r="1.5"/>
<circle cx="411.4" cy="270.4" r="1.5"/>
<circle cx="415.4" cy="268.5" r="1.5"/>
<circle cx="413.2" cy="283.6" r="1.5"/>
<circle cx="411.4" cy="288.2" r="1.5"/>
<circle cx="415.4" cy="290" r="1.5"/>
<circle cx="413.2" cy="312.7" r="1.5"/>
<circle cx="422" cy="262.4" r="1.5"/>
<circle cx="426" cy="261.8" r="1.5"/>
<circle cx="424" cy="287" r="1.5"/>
<circle cx="422" cy="295" r="1.5"/>
<circle cx="426" cy="297.3" r="1.5"/>
<circle cx="424" cy="304.5" r="1.5"/>
<circle cx="439.5" cy="284" r="1.5"/>
<circle cx="443.5" cy="282.2" r="1.5"/>
<circle cx="441.5" cy="297.6" r="1.5"/>
<circle cx="441.5" cy="307.6" r="1.5"/>
<circle cx="452" cy="277" r="1.5"/>
<circle cx="452" cy="290.4" r="1.5"/>
<circle cx="450" cy="298.2" r="1.5"/>
<circle cx="453.7" cy="296.4" r="1.5"/>
<circle cx="452" cy="302.7" r="1.5"/>
<circle cx="452" cy="319.6" r="1.5"/>
<circle cx="462.3" cy="257.6" r="1.5"/>
<circle cx="462.3" cy="270.4" r="1.5"/>
<circle cx="462.3" cy="280" r="1.5"/>
<circle cx="460.5" cy="298.5" r="1.5"/>
<circle cx="464.5" cy="300" r="1.5"/>
<circle cx="462.3" cy="309.5" r="1.5"/>
<circle cx="479.8" cy="276.4" r="1.5"/>
<circle cx="479.8" cy="287" r="1.5"/>
<circle cx="479.8" cy="305" r="1.5"/>
<circle cx="479.8" cy="312.2" r="1.5"/>
<circle cx="490.4" cy="273.4" r="1.5"/>
<circle cx="488.3" cy="291.8" r="1.5"/>
<circle cx="492.3" cy="294.2" r="1.5"/>
<circle cx="488.3" cy="304.5" r="1.5"/>
<circle cx="492.4" cy="306.3" r="1.5"/>
<circle cx="490.4" cy="331.9" r="1.5"/>
<circle cx="500.6" cy="241" r="1.5"/>
<circle cx="500.6" cy="248.7" r="1.5"/>
<circle cx="500.6" cy="252.8" r="1.5"/>
<circle cx="500.6" cy="268" r="1.5"/>
<circle cx="500.6" cy="289" r="1.5"/>
<circle cx="500.6" cy="298.5" r="1.5"/>
<circle cx="518.4" cy="276.5" r="1.5"/>
<circle cx="516.5" cy="287.3" r="1.5"/>
<circle cx="520.2" cy="288.4" r="1.5"/>
<circle cx="518.4" cy="311" r="1.5"/>
<circle cx="528.7" cy="285.8" r="1.5"/>
<circle cx="528.7" cy="296" r="1.5"/>
<circle cx="528.7" cy="309.5" r="1.5"/>
<circle cx="528.7" cy="312.7" r="1.5"/>
<circle cx="528.7" cy="315.5" r="1.5"/>
<circle cx="528.7" cy="331" r="1.5"/>
<circle cx="539" cy="261" r="1.5"/>
<circle cx="539" cy="270.5" r="1.5"/>
<circle cx="539" cy="273.4" r="1.5"/>
<circle cx="539" cy="278.6" r="1.5"/>
<circle cx="539" cy="294.7" r="1.5"/>
<circle cx="539" cy="299.6" r="1.5"/>
<text x="317.1" y="214.6" class="tk" text-anchor="end">55</text>
<text x="317.1" y="239.9" class="tk" text-anchor="end">50</text>
<text x="317.1" y="265.2" class="tk" text-anchor="end">45</text>
<text x="317.1" y="290.4" class="tk" text-anchor="end">40</text>
<text x="317.1" y="315.7" class="tk" text-anchor="end">35</text>
<text x="317.1" y="341" class="tk" text-anchor="end">30</text>
<text x="317.1" y="366.3" class="tk" text-anchor="end">25</text>
<text x="336.6" y="372.3" class="tk" text-anchor="middle">10 min</text>
<text x="375.15" y="372.3" class="tk" text-anchor="middle">30 min</text>
<text x="413.4" y="372.3" class="tk" text-anchor="middle">4 h</text>
<text x="452" y="372.3" class="tk" text-anchor="middle">24 h</text>
<text x="490.4" y="372.3" class="tk" text-anchor="middle">48 h</text>
<text x="528.5" y="372.3" class="tk" text-anchor="middle">72 h</text>
<text x="433" y="380.5" class="tt" text-anchor="middle">Time from injection</text>
<text transform="translate(300.8 285.95) rotate(-90)" class="tt" style="font-size:7.12px" text-anchor="middle">T Helper Cells CD4+ (% Lymphocytes CD3+)</text>
<text x="500.6" y="229.4" class="st" text-anchor="middle">*</text>
<text x="500.6" y="235.33" class="ha" text-anchor="middle">##</text>
<text x="539" y="253.33" class="ha" text-anchor="middle">#</text>
</g>
<g class="panel">
<text x="1.6" y="403.9" class="letter">E</text>
<path d="M49.5 479.5V471M47.8 471H51.2" class="err e0"/>
<rect x="45.8" y="479.5" width="6.9" height="70.9" fill="#ffffff" class="bar b0"/>
<path d="M59.5 497.8V490M57.8 490H61.2" class="err e1"/>
<rect x="56.4" y="497.8" width="6.9" height="52.6" fill="#d6d6d6" class="bar b1"/>
<path d="M70.5 498.2V492.7M68.8 492.7H72.2" class="err e2"/>
<rect x="67" y="498.2" width="6.6" height="52.2" fill="#7f7f7f" class="bar b2"/>
<path d="M87.5 486.4V477.3M85.8 477.3H89.2" class="err e0"/>
<rect x="84.2" y="486.4" width="7.1" height="64" fill="#ffffff" class="bar b0"/>
<path d="M98.5 486V481.5M96.8 481.5H100.2" class="err e1"/>
<rect x="95" y="486" width="6.8" height="64.4" fill="#d6d6d6" class="bar b1"/>
<path d="M108.5 489V484.5M106.8 484.5H110.2" class="err e2"/>
<rect x="105" y="489" width="7.2" height="61.4" fill="#7f7f7f" class="bar b2"/>
<path d="M126.5 469.5V457.3M124.8 457.3H128.2" class="err e0"/>
<rect x="122.6" y="469.5" width="6.9" height="80.9" fill="#ffffff" class="bar b0"/>
<path d="M136.5 475V469M134.8 469H138.2" class="err e1"/>
<rect x="133.2" y="475" width="6.8" height="75.4" fill="#d6d6d6" class="bar b1"/>
<path d="M147.5 482.4V475.5M145.8 475.5H149.2" class="err e2"/>
<rect x="144" y="482.4" width="6.8" height="68" fill="#7f7f7f" class="bar b2"/>
<path d="M164.5 478.2V470.4M162.8 470.4H166.2" class="err e0"/>
<rect x="161.4" y="478.2" width="6.9" height="72.2" fill="#ffffff" class="bar b0"/>
<path d="M175.5 469.5V457.6M173.8 457.6H177.2" class="err e1"/>
<rect x="172" y="469.5" width="7" height="80.9" fill="#d6d6d6" class="bar b1"/>
<path d="M185.5 492.2V483.6M183.8 483.6H187.2" class="err e2"/>
<rect x="182.3" y="492.2" width="6.9" height="58.2" fill="#7f7f7f" class="bar b2"/>
<path d="M203.5 475.3V461.4M201.8 461.4H205.2" class="err e0"/>
<rect x="199.8" y="475.3" width="7.1" height="75.1" fill="#ffffff" class="bar b0"/>
<path d="M214.5 452.4V443.9M212.8 443.9H216.2" class="err e1"/>
<rect x="210.5" y="452.4" width="7" height="98" fill="#d6d6d6" class="bar b1"/>
<path d="M224.5 490V484.5M222.8 484.5H226.2" class="err e2"/>
<rect x="221.1" y="490" width="6.9" height="60.4" fill="#7f7f7f" class="bar b2"/>
<path d="M241.5 484.3V476.2M239.8 476.2H243.2" class="err e0"/>
<rect x="238.3" y="484.3" width="7.3" height="66.1" fill="#ffffff" class="bar b0"/>
<path d="M252.5 454V446.3M250.8 446.3H254.2" class="err e1"/>
<rect x="249.1" y="454" width="6.9" height="96.4" fill="#d6d6d6" class="bar b1"/>
<path d="M262.5 489.4V481.4M260.8 481.4H264.2" class="err e2"/>
<rect x="259.2" y="489.4" width="7.2" height="61" fill="#7f7f7f" class="bar b2"/>
<path d="M42.4 398.6V550.4H269.7M40.2 398.6H42.4M40.2 428.9H42.4M40.2 459.3H42.4M40.2 489.6H42.4M40.2 520H42.4M40.2 550.4H42.4M59.85 550.4V552.2M98.4 550.4V552.2M136.6 550.4V552.2M175.5 550.4V552.2M214 550.4V552.2M252.55 550.4V552.2" class="axis"/>
<circle cx="47.3" cy="468.5" r="1.5"/>
<circle cx="51.3" cy="467.3" r="1.5"/>
<circle cx="49" cy="479" r="1.5"/>
<circle cx="49" cy="502.2" r="1.5"/>
<circle cx="59.6" cy="472.4" r="1.5"/>
<circle cx="59.6" cy="477.3" r="1.5"/>
<circle cx="57.8" cy="504.2" r="1.5"/>
<circle cx="61.8" cy="502.4" r="1.5"/>
<circle cx="59.6" cy="512.7" r="1.5"/>
<circle cx="59.6" cy="517.3" r="1.5"/>
<circle cx="70.4" cy="481.5" r="1.5"/>
<circle cx="70.4" cy="489" r="1.5"/>
<circle cx="68.5" cy="494.5" r="1.5"/>
<circle cx="72.4" cy="492.7" r="1.5"/>
<circle cx="70.4" cy="506.4" r="1.5"/>
<circle cx="70.4" cy="522.4" r="1.5"/>
<circle cx="85.5" cy="473.3" r="1.5"/>
<circle cx="89.6" cy="471" r="1.5"/>
<circle cx="87.6" cy="492.4" r="1.5"/>
<circle cx="87.6" cy="507.6" r="1.5"/>
<circle cx="98.2" cy="467.3" r="1.5"/>
<circle cx="96.4" cy="482.4" r="1.5"/>
<circle cx="100.4" cy="483.3" r="1.5"/>
<circle cx="96.4" cy="489" r="1.5"/>
<circle cx="100.4" cy="491" r="1.5"/>
<circle cx="98.2" cy="500.5" r="1.5"/>
<circle cx="106.7" cy="478.7" r="1.5"/>
<circle cx="110.5" cy="476.7" r="1.5"/>
<circle cx="108.6" cy="488.2" r="1.5"/>
<circle cx="106.7" cy="493.3" r="1.5"/>
<circle cx="110.5" cy="494.5" r="1.5"/>
<circle cx="108.6" cy="500" r="1.5"/>
<circle cx="126.3" cy="437.6" r="1.5"/>
<circle cx="126.3" cy="468.7" r="1.5"/>
<circle cx="126.3" cy="477" r="1.5"/>
<circle cx="126.3" cy="494.2" r="1.5"/>
<circle cx="136.8" cy="460" r="1.5"/>
<circle cx="134.6" cy="466.7" r="1.5"/>
<circle cx="138.6" cy="469" r="1.5"/>
<circle cx="134.6" cy="478.7" r="1.5"/>
<circle cx="138.6" cy="481.3" r="1.5"/>
<circle cx="136.8" cy="494" r="1.5"/>
<circle cx="145.4" cy="467.8" r="1.5"/>
<circle cx="149.2" cy="465.5" r="1.5"/>
<circle cx="147.4" cy="471.3" r="1.5"/>
<circle cx="147.4" cy="475.5" r="1.5"/>
<circle cx="147.4" cy="498.7" r="1.5"/>
<circle cx="147.4" cy="515" r="1.5"/>
<circle cx="164.6" cy="458.2" r="1.5"/>
<circle cx="164.6" cy="477" r="1.5"/>
<circle cx="164.6" cy="485.5" r="1.5"/>
<circle cx="164.6" cy="491" r="1.5"/>
<circle cx="175.4" cy="438.7" r="1.5"/>
<circle cx="175.4" cy="441.8" r="1.5"/>
<circle cx="175.4" cy="454" r="1.5"/>
<circle cx="175.4" cy="485.5" r="1.5"/>
<circle cx="175.4" cy="489" r="1.5"/>
<circle cx="175.4" cy="507.8" r="1.5"/>
<circle cx="185.9" cy="460.5" r="1.5"/>
<circle cx="185.9" cy="482.4" r="1.5"/>
<circle cx="185.9" cy="493.6" r="1.5"/>
<circle cx="185.9" cy="497.3" r="1.5"/>
<circle cx="185.9" cy="500.5" r="1.5"/>
<circle cx="185.9" cy="519.6" r="1.5"/>
<circle cx="203.4" cy="437.6" r="1.5"/>
<circle cx="201.1" cy="479.4" r="1.5"/>
<circle cx="205.5" cy="481.3" r="1.5"/>
<circle cx="203.4" cy="501.3" r="1.5"/>
<circle cx="214" cy="423.2" r="1.5"/>
<circle cx="214" cy="435.7" r="1.5"/>
<circle cx="214" cy="452.4" r="1.5"/>
<circle cx="214" cy="457.3" r="1.5"/>
<circle cx="214" cy="466.3" r="1.5"/>
<circle cx="214" cy="478.9" r="1.5"/>
<circle cx="224.4" cy="457.8" r="1.5"/>
<circle cx="224.4" cy="482.5" r="1.5"/>
<circle cx="224.4" cy="487.4" r="1.5"/>
<circle cx="224.4" cy="499" r="1.5"/>
<circle cx="222.4" cy="506.6" r="1.5"/>
<circle cx="226.3" cy="505" r="1.5"/>
<circle cx="241.9" cy="468" r="1.5"/>
<circle cx="241.9" cy="473.6" r="1.5"/>
<circle cx="241.9" cy="493.5" r="1.5"/>
<circle cx="241.9" cy="501.2" r="1.5"/>
<circle cx="252.5" cy="428.6" r="1.5"/>
<circle cx="252.5" cy="431.4" r="1.5"/>
<circle cx="252.5" cy="459" r="1.5"/>
<circle cx="250.6" cy="465" r="1.5"/>
<circle cx="254.3" cy="466.8" r="1.5"/>
<circle cx="252.5" cy="473.6" r="1.5"/>
<circle cx="260.9" cy="470.4" r="1.5"/>
<circle cx="265" cy="468.7" r="1.5"/>
<circle cx="262.8" cy="479.6" r="1.5"/>
<circle cx="262.8" cy="500.7" r="1.5"/>
<circle cx="260.9" cy="509.4" r="1.5"/>
<circle cx="264.8" cy="507.4" r="1.5"/>
<text x="40.2" y="400.9" class="tk" text-anchor="end">35</text>
<text x="40.2" y="431.2" class="tk" text-anchor="end">30</text>
<text x="40.2" y="461.6" class="tk" text-anchor="end">25</text>
<text x="40.2" y="491.9" class="tk" text-anchor="end">20</text>
<text x="40.2" y="522.3" class="tk" text-anchor="end">15</text>
<text x="40.2" y="552.7" class="tk" text-anchor="end">10</text>
<text x="59.85" y="558.5" class="tk" text-anchor="middle">10 min</text>
<text x="98.4" y="558.5" class="tk" text-anchor="middle">30 min</text>
<text x="136.6" y="558.5" class="tk" text-anchor="middle">4 h</text>
<text x="175.5" y="558.5" class="tk" text-anchor="middle">24 h</text>
<text x="214" y="558.5" class="tk" text-anchor="middle">48 h</text>
<text x="252.55" y="558.5" class="tk" text-anchor="middle">72 h</text>
<text x="156.8" y="567" class="tt" text-anchor="middle">Time from injection</text>
<text transform="translate(23.7 472.9) rotate(-90)" class="tt" style="font-size:7.18px" text-anchor="middle">Cytotoxic T Cells CD8+ (% Lymphocytes CD3+)</text>
<text x="224" y="450.33" class="ha" text-anchor="middle">##</text>
<text x="252.5" y="423.6" class="st" text-anchor="middle">*</text>
<text x="262.8" y="461.43" class="ha" text-anchor="middle">##</text>
</g>
<g class="panel">
<text x="278.8" y="403.3" class="letter">F</text>
<path d="M326.5 479.5V463.2M324.8 463.2H328.2" class="err e0"/>
<rect x="322.6" y="479.5" width="6.9" height="70.8" fill="#ffffff" class="bar b0"/>
<path d="M336.5 474V466M334.8 466H338.2" class="err e1"/>
<rect x="333.2" y="474" width="6.8" height="76.3" fill="#d6d6d6" class="bar b1"/>
<path d="M347.5 471.4V460.5M345.8 460.5H349.2" class="err e2"/>
<rect x="343.7" y="471.4" width="7.1" height="78.9" fill="#7f7f7f" class="bar b2"/>
<path d="M364.5 482.3V468.3M362.8 468.3H366.2" class="err e0"/>
<rect x="361" y="482.3" width="7" height="68" fill="#ffffff" class="bar b0"/>
<path d="M375.5 482.3V476.5M373.8 476.5H377.2" class="err e1"/>
<rect x="371.7" y="482.3" width="6.9" height="68" fill="#d6d6d6" class="bar b1"/>
<path d="M385.5 472.3V463.7M383.8 463.7H387.2" class="err e2"/>
<rect x="382.3" y="472.3" width="6.9" height="78" fill="#7f7f7f" class="bar b2"/>
<path d="M403.5 472.2V455.5M401.8 455.5H405.2" class="err e0"/>
<rect x="399.5" y="472.2" width="7" height="78.1" fill="#ffffff" class="bar b0"/>
<path d="M413.5 461.5V453.6M411.8 453.6H415.2" class="err e1"/>
<rect x="410" y="461.5" width="6.8" height="88.8" fill="#d6d6d6" class="bar b1"/>
<path d="M423.5 468.2V457.6M421.8 457.6H425.2" class="err e2"/>
<rect x="420.5" y="468.2" width="6.9" height="82.1" fill="#7f7f7f" class="bar b2"/>
<path d="M441.5 487.3V467.3M439.8 467.3H443.2" class="err e0"/>
<rect x="438" y="487.3" width="7" height="63" fill="#ffffff" class="bar b0"/>
<path d="M452.5 457.6V450.4M450.8 450.4H454.2" class="err e1"/>
<rect x="448.6" y="457.6" width="6.8" height="92.7" fill="#d6d6d6" class="bar b1"/>
<path d="M462.5 455V451.5M460.8 451.5H464.2" class="err e2"/>
<rect x="459" y="455" width="7" height="95.3" fill="#7f7f7f" class="bar b2"/>
<path d="M479.5 480.4V461.4M477.8 461.4H481.2" class="err e0"/>
<rect x="476.3" y="480.4" width="7.1" height="69.9" fill="#ffffff" class="bar b0"/>
<path d="M490.5 483.1V473.4M488.8 473.4H492.2" class="err e1"/>
<rect x="486.7" y="483.1" width="7.1" height="67.2" fill="#d6d6d6" class="bar b1"/>
<path d="M500.5 450.6V438.4M498.8 438.4H502.2" class="err e2"/>
<rect x="497.3" y="450.6" width="6.9" height="99.7" fill="#7f7f7f" class="bar b2"/>
<path d="M518.5 495.4V479M516.8 479H520.2" class="err e0"/>
<rect x="514.5" y="495.4" width="7.2" height="54.9" fill="#ffffff" class="bar b0"/>
<path d="M528.5 488.5V479.1M526.8 479.1H530.2" class="err e1"/>
<rect x="525" y="488.5" width="7" height="61.8" fill="#d6d6d6" class="bar b1"/>
<path d="M539.5 454V447.4M537.8 447.4H541.2" class="err e2"/>
<rect x="535.7" y="454" width="7" height="96.3" fill="#7f7f7f" class="bar b2"/>
<path d="M319.3 398.6V550.3H546M317.1 398.6H319.3M317.1 423.9H319.3M317.1 449.2H319.3M317.1 474.5H319.3M317.1 499.8H319.3M317.1 525H319.3M317.1 550.3H319.3M336.6 550.3V552.1M375.15 550.3V552.1M413.4 550.3V552.1M452 550.3V552.1M490.25 550.3V552.1M528.5 550.3V552.1" class="axis"/>
<circle cx="326.3" cy="449" r="1.5"/>
<circle cx="326.3" cy="462.6" r="1.5"/>
<circle cx="326.3" cy="484" r="1.5"/>
<circle cx="326.3" cy="522.3" r="1.5"/>
<circle cx="334.6" cy="461.4" r="1.5"/>
<circle cx="338.6" cy="459" r="1.5"/>
<circle cx="338.6" cy="461.4" r="1.5"/>
<circle cx="336.6" cy="468.6" r="1.5"/>
<circle cx="336.6" cy="479.5" r="1.5"/>
<circle cx="336.6" cy="511.7" r="1.5"/>
<circle cx="347.2" cy="442.6" r="1.5"/>
<circle cx="347.2" cy="452.3" r="1.5"/>
<circle cx="347.2" cy="460.5" r="1.5"/>
<circle cx="347.2" cy="473.5" r="1.5"/>
<circle cx="347.2" cy="492.3" r="1.5"/>
<circle cx="347.2" cy="507.2" r="1.5"/>
<circle cx="364.6" cy="448" r="1.5"/>
<circle cx="364.6" cy="472.6" r="1.5"/>
<circle cx="364.6" cy="500" r="1.5"/>
<circle cx="364.6" cy="508.3" r="1.5"/>
<circle cx="375" cy="463.2" r="1.5"/>
<circle cx="375" cy="472.6" r="1.5"/>
<circle cx="375" cy="480.8" r="1.5"/>
<circle cx="375" cy="485.4" r="1.5"/>
<circle cx="375" cy="489.2" r="1.5"/>
<circle cx="375" cy="500" r="1.5"/>
<circle cx="385.5" cy="445" r="1.5"/>
<circle cx="385.5" cy="456.8" r="1.5"/>
<circle cx="385.5" cy="467.4" r="1.5"/>
<circle cx="385.5" cy="476.5" r="1.5"/>
<circle cx="385.5" cy="486" r="1.5"/>
<circle cx="385.5" cy="502.6" r="1.5"/>
<circle cx="402.8" cy="437.3" r="1.5"/>
<circle cx="402.8" cy="452.2" r="1.5"/>
<circle cx="402.8" cy="497.3" r="1.5"/>
<circle cx="402.8" cy="500.5" r="1.5"/>
<circle cx="413.2" cy="436.7" r="1.5"/>
<circle cx="413.2" cy="449" r="1.5"/>
<circle cx="411.4" cy="460" r="1.5"/>
<circle cx="415.4" cy="457.6" r="1.5"/>
<circle cx="413.2" cy="472.4" r="1.5"/>
<circle cx="413.2" cy="488.5" r="1.5"/>
<circle cx="423.7" cy="437.6" r="1.5"/>
<circle cx="422" cy="453.6" r="1.5"/>
<circle cx="426" cy="454.2" r="1.5"/>
<circle cx="423.7" cy="467.3" r="1.5"/>
<circle cx="423.7" cy="485.5" r="1.5"/>
<circle cx="423.7" cy="509.6" r="1.5"/>
<circle cx="441.4" cy="437.3" r="1.5"/>
<circle cx="441.4" cy="481.5" r="1.5"/>
<circle cx="441.4" cy="500" r="1.5"/>
<circle cx="441.2" cy="528.5" r="1.5"/>
<circle cx="452" cy="430.5" r="1.5"/>
<circle cx="452" cy="450" r="1.5"/>
<circle cx="450" cy="457.6" r="1.5"/>
<circle cx="453.7" cy="457.6" r="1.5"/>
<circle cx="452" cy="467.8" r="1.5"/>
<circle cx="452" cy="488.5" r="1.5"/>
<circle cx="464.2" cy="443.6" r="1.5"/>
<circle cx="460.6" cy="446.3" r="1.5"/>
<circle cx="462.4" cy="450.5" r="1.5"/>
<circle cx="464.2" cy="458.1" r="1.5"/>
<circle cx="460.5" cy="455.5" r="1.5"/>
<circle cx="462.4" cy="473.5" r="1.5"/>
<circle cx="479.8" cy="441.3" r="1.5"/>
<circle cx="479.8" cy="457.6" r="1.5"/>
<circle cx="479.8" cy="501" r="1.5"/>
<circle cx="479.6" cy="520.4" r="1.5"/>
<circle cx="490.4" cy="453.4" r="1.5"/>
<circle cx="490.4" cy="458.8" r="1.5"/>
<circle cx="490.4" cy="483.3" r="1.5"/>
<circle cx="490.4" cy="487.3" r="1.5"/>
<circle cx="490.4" cy="504.1" r="1.5"/>
<circle cx="490.4" cy="509.6" r="1.5"/>
<circle cx="498.5" cy="418" r="1.5"/>
<circle cx="502.9" cy="416.8" r="1.5"/>
<circle cx="500.6" cy="451" r="1.5"/>
<circle cx="500.6" cy="458.3" r="1.5"/>
<circle cx="500.6" cy="471" r="1.5"/>
<circle cx="500.6" cy="484.2" r="1.5"/>
<circle cx="518.1" cy="463.4" r="1.5"/>
<circle cx="518.1" cy="478.5" r="1.5"/>
<circle cx="518.1" cy="510.6" r="1.5"/>
<circle cx="518.1" cy="529.4" r="1.5"/>
<circle cx="528.7" cy="460" r="1.5"/>
<circle cx="528.7" cy="473.1" r="1.5"/>
<circle cx="528.7" cy="485.5" r="1.5"/>
<circle cx="526.6" cy="492" r="1.5"/>
<circle cx="530.7" cy="493.7" r="1.5"/>
<circle cx="528.7" cy="522.9" r="1.5"/>
<circle cx="539" cy="437.9" r="1.5"/>
<circle cx="539" cy="441.3" r="1.5"/>
<circle cx="537.2" cy="450.3" r="1.5"/>
<circle cx="541" cy="450.3" r="1.5"/>
<circle cx="539" cy="467.8" r="1.5"/>
<circle cx="539" cy="475.5" r="1.5"/>
<text x="317.1" y="400.9" class="tk" text-anchor="end">50</text>
<text x="317.1" y="426.2" class="tk" text-anchor="end">45</text>
<text x="317.1" y="451.5" class="tk" text-anchor="end">40</text>
<text x="317.1" y="476.8" class="tk" text-anchor="end">35</text>
<text x="317.1" y="502.1" class="tk" text-anchor="end">30</text>
<text x="317.1" y="527.3" class="tk" text-anchor="end">25</text>
<text x="317.1" y="552.6" class="tk" text-anchor="end">20</text>
<text x="336.6" y="558.2" class="tk" text-anchor="middle">10 min</text>
<text x="375.15" y="558.2" class="tk" text-anchor="middle">30 min</text>
<text x="413.4" y="558.2" class="tk" text-anchor="middle">4 h</text>
<text x="452" y="558.2" class="tk" text-anchor="middle">24 h</text>
<text x="490.25" y="558.2" class="tk" text-anchor="middle">48 h</text>
<text x="528.5" y="558.2" class="tk" text-anchor="middle">72 h</text>
<text x="433" y="566.7" class="tt" text-anchor="middle">Time from injection</text>
<text transform="translate(300.9 473) rotate(-90)" class="tt" style="font-size:7.17px" text-anchor="middle">B Cells CD45b+ (% Lymphocytes CD3+)</text>
<text x="539" y="425.1" class="st" text-anchor="middle">*</text>
<text x="539" y="431.03" class="ha" text-anchor="middle">#</text>
</g>
</svg></body></html>
